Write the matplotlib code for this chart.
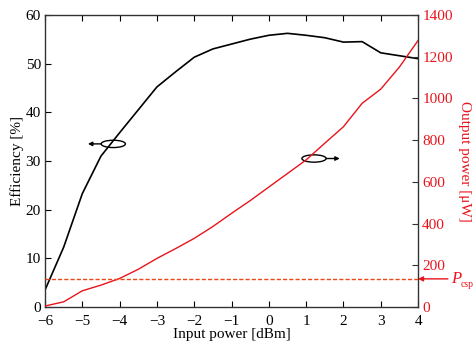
import matplotlib.pyplot as plt
from matplotlib.patches import Ellipse

plt.rcParams['font.family'] = ['Liberation Serif', 'DejaVu Serif']
plt.rcParams['font.size'] = 11

# Data
input_power = [-6, -5.5, -5, -4.5, -4, -3.5, -3, -2.5, -2, -1.5, -1,
               -0.5, 0, 0.5, 1, 1.5, 2, 2.5, 3, 3.5, 4]
efficiency = [3.5, 12.3, 23.3, 31.0, 35.8, 40.5, 45.2, 48.3, 51.3, 53.0, 54.0,
              55.0, 55.8, 56.2, 55.8, 55.3, 54.4, 54.5, 52.2, 51.6, 51.0]
output_power = [5, 25, 78, 105, 137, 181, 233, 280, 329, 386, 449,
                510, 575, 640, 705, 785, 864, 976, 1044, 1150, 1277]
p_csp = 135

red = '#e8141c'
orange = '#e8481c'

fig, ax = plt.subplots(figsize=(4.74, 3.45), dpi=100)
fig.subplots_adjust(left=0.095, right=0.882, top=0.957, bottom=0.11)

ax.plot(input_power, efficiency, color='black', lw=1.2)
ax.set_xlim(-6, 4)
ax.set_ylim(0, 60)
ax.set_xticks(range(-6, 5))
ax.set_yticks(range(0, 61, 10))
ax.set_xlabel('Input power [dBm]', labelpad=0)
ax.set_ylabel('Efficiency [%]', labelpad=1)
ax.tick_params(direction='in', top=True, length=4, width=0.8)
ax.tick_params(axis='x', pad=6)
ax.tick_params(axis='y', pad=3)
for s in ax.spines.values():
    s.set_linewidth(1.0)
    s.set_color('#333333')

ax2 = ax.twinx()
ax2.plot(input_power, output_power, color=red, lw=1.0)
ax2.axhline(p_csp, color=orange, lw=1.0, ls=(0, (3, 1.5)))
ax2.set_ylim(0, 1400)
ax2.set_yticks(range(0, 1401, 200))
ax2.tick_params(axis='y', direction='in', length=4, width=0.8, colors=red, pad=3)
ax2.tick_params(axis='y', color='#333333')
ax2.set_ylabel('Output power [\u03bcW]', color=red, rotation=270, labelpad=13)
for s in ax2.spines.values():
    s.set_visible(False)

# Pcsp marker to the right of the axis
ax2.annotate('', xy=(1.0, p_csp), xycoords=('axes fraction', 'data'),
             xytext=(1.08, p_csp), textcoords=('axes fraction', 'data'),
             arrowprops=dict(arrowstyle='-|>', color=red, lw=1.0,
                             mutation_scale=7, shrinkA=0, shrinkB=0),
             annotation_clip=False)
ytrans = ax2.get_yaxis_transform()
ax2.text(1.088, p_csp, 'P', color=red, fontsize=12, style='italic',
         transform=ytrans, va='center', ha='left')
ax2.text(1.115, p_csp - 25, 'csp', color=red, fontsize=7,
         transform=ytrans, va='center', ha='left')

# Series indicators (ellipse + arrow)
ax.add_patch(Ellipse((-4.17, 33.5), 0.65, 1.5, fill=False, color='black', lw=1.0))
ax.annotate('', xy=(-4.85, 33.5), xytext=(-4.5, 33.5),
            arrowprops=dict(arrowstyle='-|>', color='black', lw=1.0,
                            mutation_scale=6, shrinkA=0, shrinkB=0))
ax.add_patch(Ellipse((1.21, 30.5), 0.65, 1.5, fill=False, color='black', lw=1.0))
ax.annotate('', xy=(1.9, 30.5), xytext=(1.54, 30.5),
            arrowprops=dict(arrowstyle='-|>', color='black', lw=1.0,
                            mutation_scale=6, shrinkA=0, shrinkB=0))

plt.savefig('out.png', dpi=100)
